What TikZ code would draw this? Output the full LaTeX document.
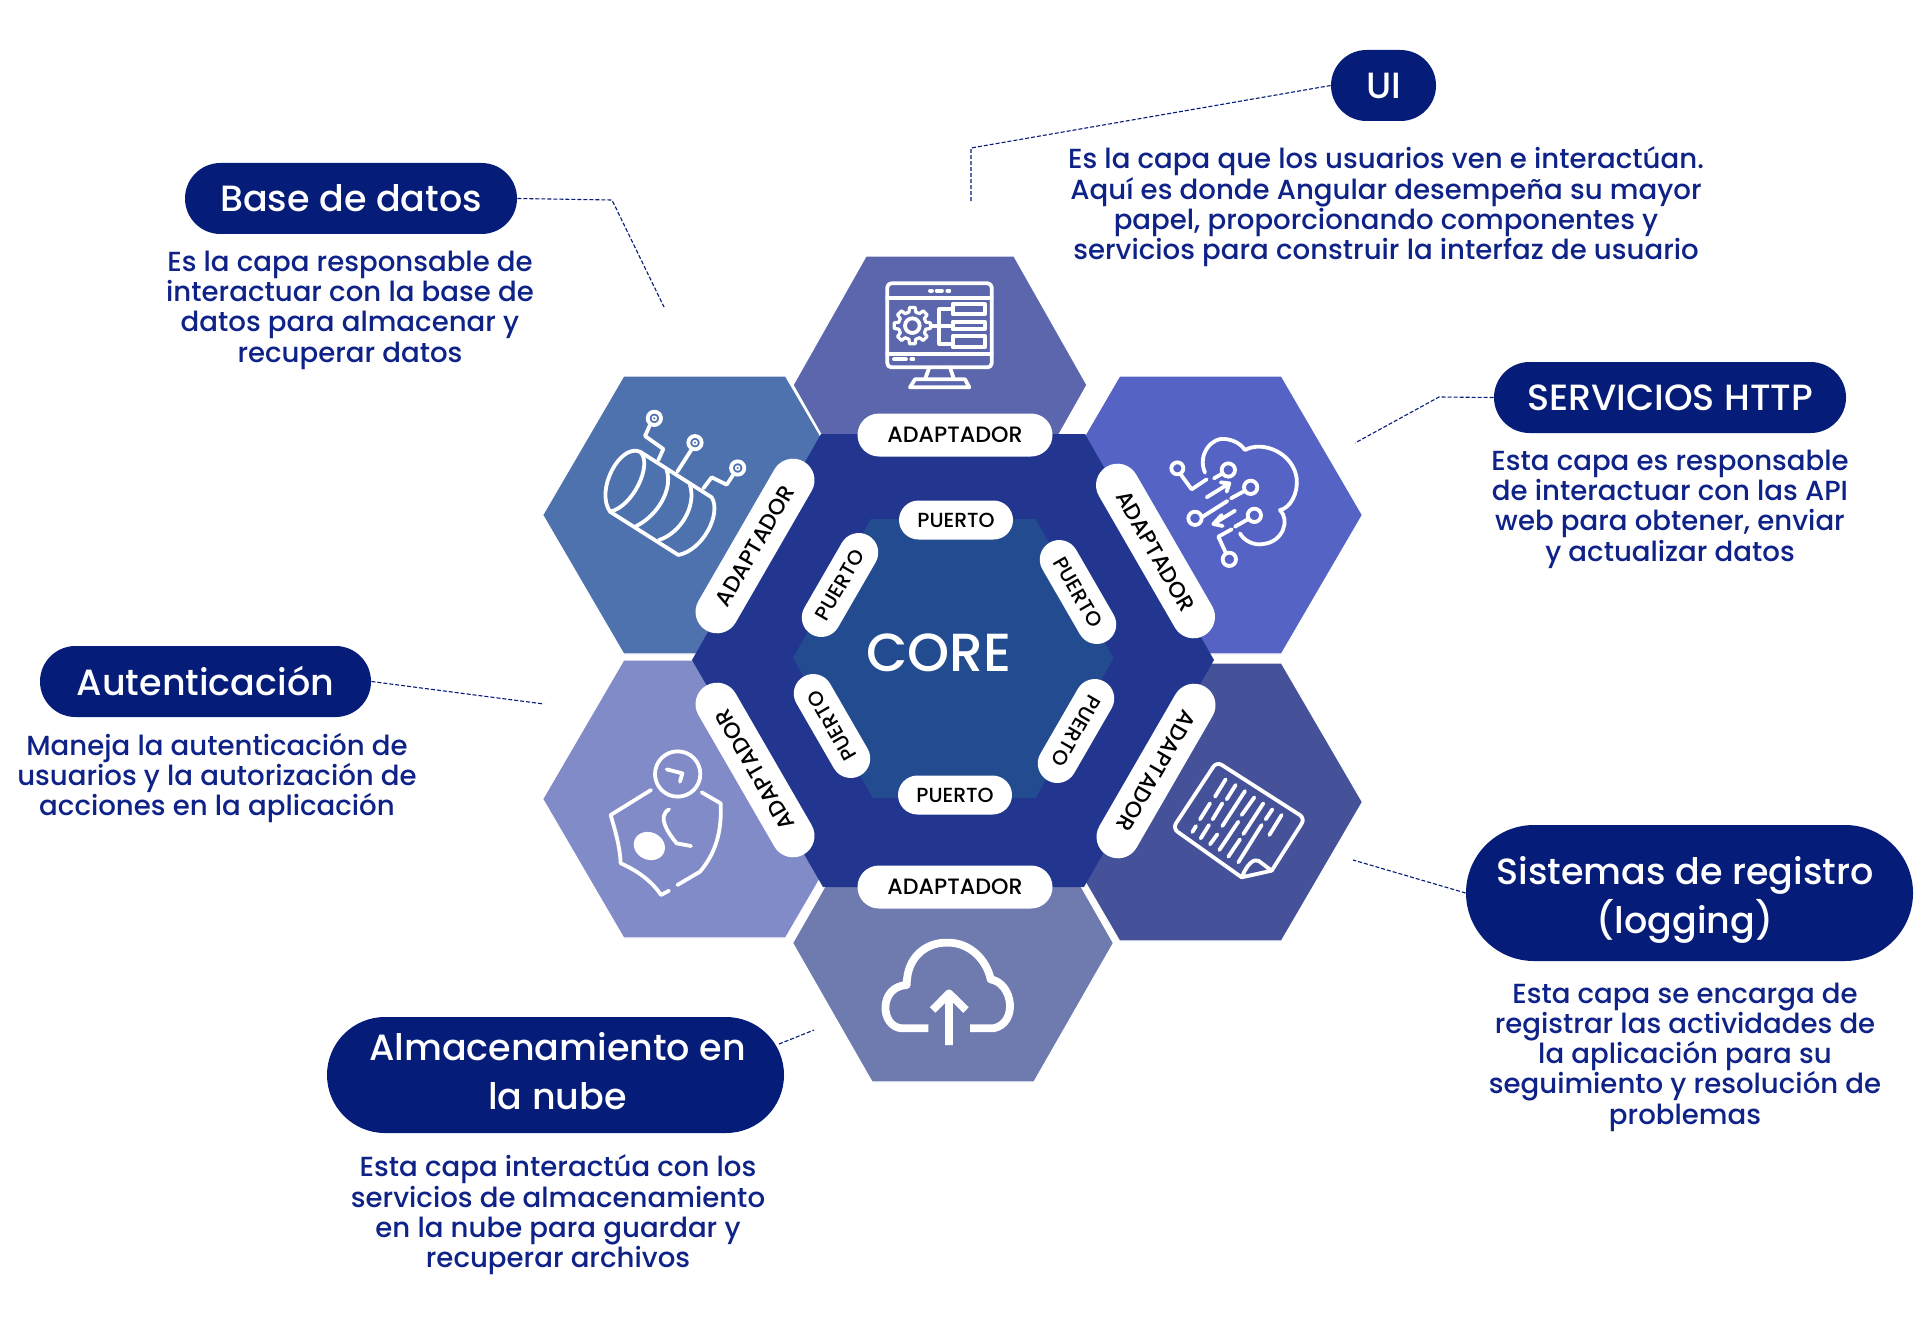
\documentclass[tikz,border=0pt]{standalone}
\usepackage{fontspec}
\setmainfont{Poppins Medium}
\usetikzlibrary{shapes.misc}
\definecolor{navy}{HTML}{051C78}
\definecolor{bodyc}{HTML}{0E2287}
\definecolor{hUI}{HTML}{5B66AC}
\definecolor{hDB}{HTML}{4E72AE}
\definecolor{hHT}{HTML}{5564C4}
\definecolor{hAU}{HTML}{818BC8}
\definecolor{hLG}{HTML}{45529A}
\definecolor{hCL}{HTML}{6F7BAE}
\definecolor{hMID}{HTML}{223690}
\definecolor{hCORE}{HTML}{234B8F}
\newcommand{\hexa}[6]{\fill[#6,draw=white,line width=.6pt] ({#1-#3},{#2}) -- ({#1-#4},{#2-#5}) -- ({#1+#4},{#2-#5}) -- ({#1+#3},{#2}) -- ({#1+#4},{#2+#5}) -- ({#1-#4},{#2+#5}) -- cycle;}
\tikzset{
  x=.5pt,y=-.5pt,
  title/.style={rounded rectangle,fill=navy,text=white,font=\fontsize{18.25}{24.5}\selectfont,align=center,inner sep=0pt},
  titletext/.style={text=white,font=\fontsize{18.25}{24.5}\selectfont,align=center,inner sep=0pt},
  bodytext/.style={text=bodyc,font=\fontsize{13.8}{15.15}\selectfont,align=center,inner sep=0pt},
  adapter/.style={rounded rectangle,fill=white,text=black,font=\fontsize{11.1}{12}\selectfont,minimum width=97.5pt,minimum height=21.5pt,inner sep=0pt},
  port/.style={rounded rectangle,fill=white,text=black,font=\fontsize{10.2}{12}\selectfont,minimum width=57pt,minimum height=19.5pt,inner sep=0pt},
  link/.style={draw=navy,line width=.55pt,dash pattern=on 2pt off 1pt},
  ic/.style={draw=white,line width=1.9pt,line cap=round,line join=round},
  icw/.style={draw=white,line width=3.9pt,line join=round},
}
\begin{document}
\begin{tikzpicture}
\useasboundingbox (0,0) rectangle (1920,1316);
\fill[white] (0,0) rectangle (1920,1316);
% hexagons
\hexa{953}{943}{160.5}{81}{139}{hCL}
\hexa{940}{385}{147}{74}{129}{hUI}
\hexa{704.6}{799}{162}{81}{139}{hAU}
\hexa{1200.5}{802}{162}{81}{139}{hLG}
\hexa{704.6}{515}{162}{81}{139}{hDB}
\hexa{1200.5}{515}{162}{81}{139}{hHT}
\fill[hMID] (692,660) -- (821,434) -- (1085,434) -- (1214,660) -- (1084,887) -- (823,887) -- cycle;
\fill[hCORE] (793,658) -- (871,519) -- (1035.5,519) -- (1113.5,658) -- (1035.5,798) -- (873,798) -- cycle;
\node[text=white,font=\fontsize{26.8}{32}\selectfont,inner sep=0pt] (core) at (939,653) {CORE};
% adapters
\node[adapter] (a1) at (955,435) {ADAPTADOR};
\node[adapter] (a2) at (955,887) {ADAPTADOR};
\node[adapter,rotate=60] (a3) at (755,546) {ADAPTADOR};
\node[adapter,rotate=-60] (a4) at (1155.5,551) {ADAPTADOR};
\node[adapter,rotate=120] (a5) at (755,770) {ADAPTADOR};
\node[adapter,rotate=240] (a6) at (1156,771) {ADAPTADOR};
% ports
\node[port] (p1) at (956,520) {PUERTO};
\node[port] (p2) at (955,795) {PUERTO};
\node[port,rotate=60] (p3) at (840,585) {PUERTO};
\node[port,rotate=-60] (p4) at (1078,592) {PUERTO};
\node[port,rotate=120] (p5) at (832,726) {PUERTO};
\node[port,rotate=240] (p6) at (1076,731) {PUERTO};
% titles
\node[title,minimum width=52.5pt,minimum height=35.5pt] (tUI) at (1383.5,85.5) {UI};
\node[title,minimum width=166pt,minimum height=35.5pt] (tDB) at (351,198.5) {\raisebox{.5pt}{Base de datos}};
\node[title,minimum width=176pt,minimum height=35.5pt] (tHT) at (1670,397.5) {SERVICIOS HTTP};
\node[title,minimum width=165.5pt,minimum height=35.5pt] (tAU) at (205.5,681.5) {\raisebox{.5pt}{Autenticación}};
\node[title,minimum width=223.5pt,minimum height=68pt] (tLG) at (1689.5,893) {};
\node[titletext] (tLGt) at (1685,894) [yshift=-3pt] {Sistemas de registro\\(logging)};
\node[title,minimum width=228.5pt,minimum height=58pt] (tCL) at (555.5,1075) {};
\node[titletext] (tCLt) at (557.5,1075) [yshift=1.8pt] {Almacenamiento en\\la nube};
% body
\node[bodytext] (bUI) at (1386,207) {Es la capa que los usuarios ven e interactúan.\\Aquí es donde Angular desempeña su mayor\\papel, proporcionando componentes y\\servicios para construir la interfaz de usuario};
\node[bodytext] (bDB) at (350,310) {Es la capa responsable de\\interactuar con la base de\\datos para almacenar y\\recuperar datos};
\node[bodytext] (bHT) at (1670,509) {Esta capa es responsable\\de interactuar con las API\\web para obtener, enviar\\y actualizar datos};
\node[bodytext] (bAU) at (217,778) {Maneja la autenticación de\\usuarios y la autorización de\\acciones en la aplicación};
\node[bodytext] (bLG) at (1685,1057) {Esta capa se encarga de\\registrar las actividades de\\la aplicación para su\\seguimiento y resolución de\\problemas};
\node[bodytext] (bCL) at (558,1215) {Esta capa interactúa con los\\servicios de almacenamiento\\en la nube para guardar y\\recuperar archivos};
% connectors
\coordinate (eUI) at (971,203);
\coordinate (eDB) at (664,307);
\coordinate (eHT) at (1355,443);
\coordinate (eAU) at (544,704);
\coordinate (eLG) at (1353,860);
\coordinate (eCL) at (814,1030);
\draw[link] (tUI.west) -- (971,148) -- (eUI);
\draw[link] (tDB.east) -- (612,200) -- (eDB);
\draw[link] (tHT.west) -- (1439,397) -- (eHT);
\draw[link] (tAU.east) -- (eAU);
\draw[link] (tLG.west) -- (eLG);
\draw[link] (779,1044) -- (eCL);
% UI icon
\begin{scope}[shift={(870,270)},scale=1/3]
\draw[ic,rounded corners=2pt] (52,40) rectangle (365,292);
\draw[ic] (52,85) -- (365,85) (52,252) -- (365,252);
\draw[ic] (180,62) -- (186,62) (200,62) -- (216,62) (232,62) -- (238,62) (72,268) -- (108,268) (124,268) -- (130,268);
\draw[ic] (127,167) circle (22);
\draw[ic,line width=1.6pt,shift={(127,167)}] (-14:42) \foreach \a in {0,45,...,315} { -- ({\a-14}:42) -- ({\a-9}:55) -- ({\a+9}:55) -- ({\a+14}:42) } -- cycle;
\draw[ic] (183,167) -- (248,167) (248,118) -- (208,118) -- (208,222) -- (248,222);
\draw[ic] (248,103) rectangle (345,133) (248,155) rectangle (345,178) (248,198) rectangle (345,232);
\draw[ic] (178,292) -- (165,328) (240,292) -- (252,328) (135,328) -- (285,328) -- (298,352) -- (120,352) -- cycle;
\end{scope}
% DB icon
\begin{scope}[shift={(590,400)},scale=1/3]
\draw[ic] (60,335) .. controls (15,270) and (90,130) .. (150,155) .. controls (190,190) and (130,320) .. (60,335);
\draw[ic] (150,155) -- (365,292) (60,335) -- (265,465);
\draw[ic] (230,210) .. controls (250,270) and (200,350) .. (135,380);
\draw[ic] (300,255) .. controls (320,320) and (270,400) .. (207,420);
\draw[ic] (365,292) .. controls (395,340) and (340,450) .. (265,465);
\draw[ic] (193,55) circle (20) (315,128) circle (20) (443,204) circle (20);
\draw[ic,line width=.8pt] (193,55) circle (6) (315,128) circle (6) (443,204) circle (6);
\draw[ic] (180,75) -- (165,108) -- (220,147) -- (205,180);
\draw[ic] (305,148) -- (262,215);
\draw[ic] (430,224) -- (410,254) -- (365,232) -- (340,265);
\end{scope}
% HTTP icon
\begin{scope}[shift={(1150,420)},scale=1/3]
\draw[ic] (165,158) .. controls (140,100) and (190,50) .. (225,57) .. controls (255,60) and (275,75) .. (285,90) .. controls (340,60) and (430,100) .. (440,175) .. controls (445,220) and (420,265) .. (390,270) .. controls (420,300) and (400,365) .. (340,372) .. controls (310,378) and (280,360) .. (270,340);
\draw[ic] (82,145) circle (18) (235,150) circle (20) (302,202) circle (20) (135,295) circle (20) (313,286) circle (20) (238,418) circle (20);
\draw[ic] (92,163) -- (125,208) -- (170,178) (192,175) -- (218,160);
\draw[ic] (170,232) -- (238,190) (212,187) -- (238,190) -- (230,215);
\draw[ic] (285,212) -- (243,235) (232,243) -- (155,292);
\draw[ic] (255,272) -- (190,312) (215,285) -- (190,312) -- (218,318);
\draw[ic] (295,297) -- (255,320) (245,328) -- (205,350) -- (228,400);
\end{scope}
% Auth icon
\begin{scope}[shift={(590,740)},scale=1/3]
\draw[ic] (263,102) circle (68);
\draw[ic] (230,88) -- (277,100) -- (270,125);
\draw[ic] (183,150) -- (62,225) .. controls (75,270) and (90,320) .. (92,370) .. controls (150,395) and (190,430) .. (213,465) -- (237,452);
\draw[ic] (335,157) -- (392,190) .. controls (395,260) and (385,330) .. (330,395) -- (262,435);
\fill[white,rotate around={-25:(178,318)}] (178,318) ellipse (48 and 41);
\draw[ic] (237,208) .. controls (200,230) and (235,280) .. (260,310) -- (303,318);
\end{scope}
% Log icon
\begin{scope}[shift={(1160,750)},scale=1/3]
\draw[ic,rounded corners=3pt] (245,382) -- (38,235) -- (170,35) -- (435,205) -- (335,362);
\draw[ic] (335,362) -- (245,382) .. controls (260,345) and (280,325) .. (295,332) -- (335,362);
\draw[ic] (197,88) -- (165,140) (227,105) -- (200,148) (255,123) -- (187,228) (283,142) -- (245,195) (310,160) -- (250,252) (337,178) -- (317,208) (365,195) -- (328,255) (150,160) -- (120,208) (187,160) -- (158,208) (108,228) -- (97,246) (147,225) -- (122,265) (172,253) -- (150,283) (235,215) -- (178,300) (240,268) -- (205,320) (305,225) -- (235,337);
\end{scope}
% Upload icon
\begin{scope}[shift={(870,930)},scale=1/3]
\draw[icw] (175,295) -- (95,295) .. controls (30,290) and (25,170) .. (110,165) .. controls (110,80) and (170,35) .. (235,38) .. controls (300,38) and (350,90) .. (362,148) .. controls (430,160) and (445,280) .. (370,295) -- (300,295);
\draw[icw] (237,345) -- (237,195) (188,240) -- (237,190) -- (288,240);
\end{scope}
\end{tikzpicture}
\end{document}
